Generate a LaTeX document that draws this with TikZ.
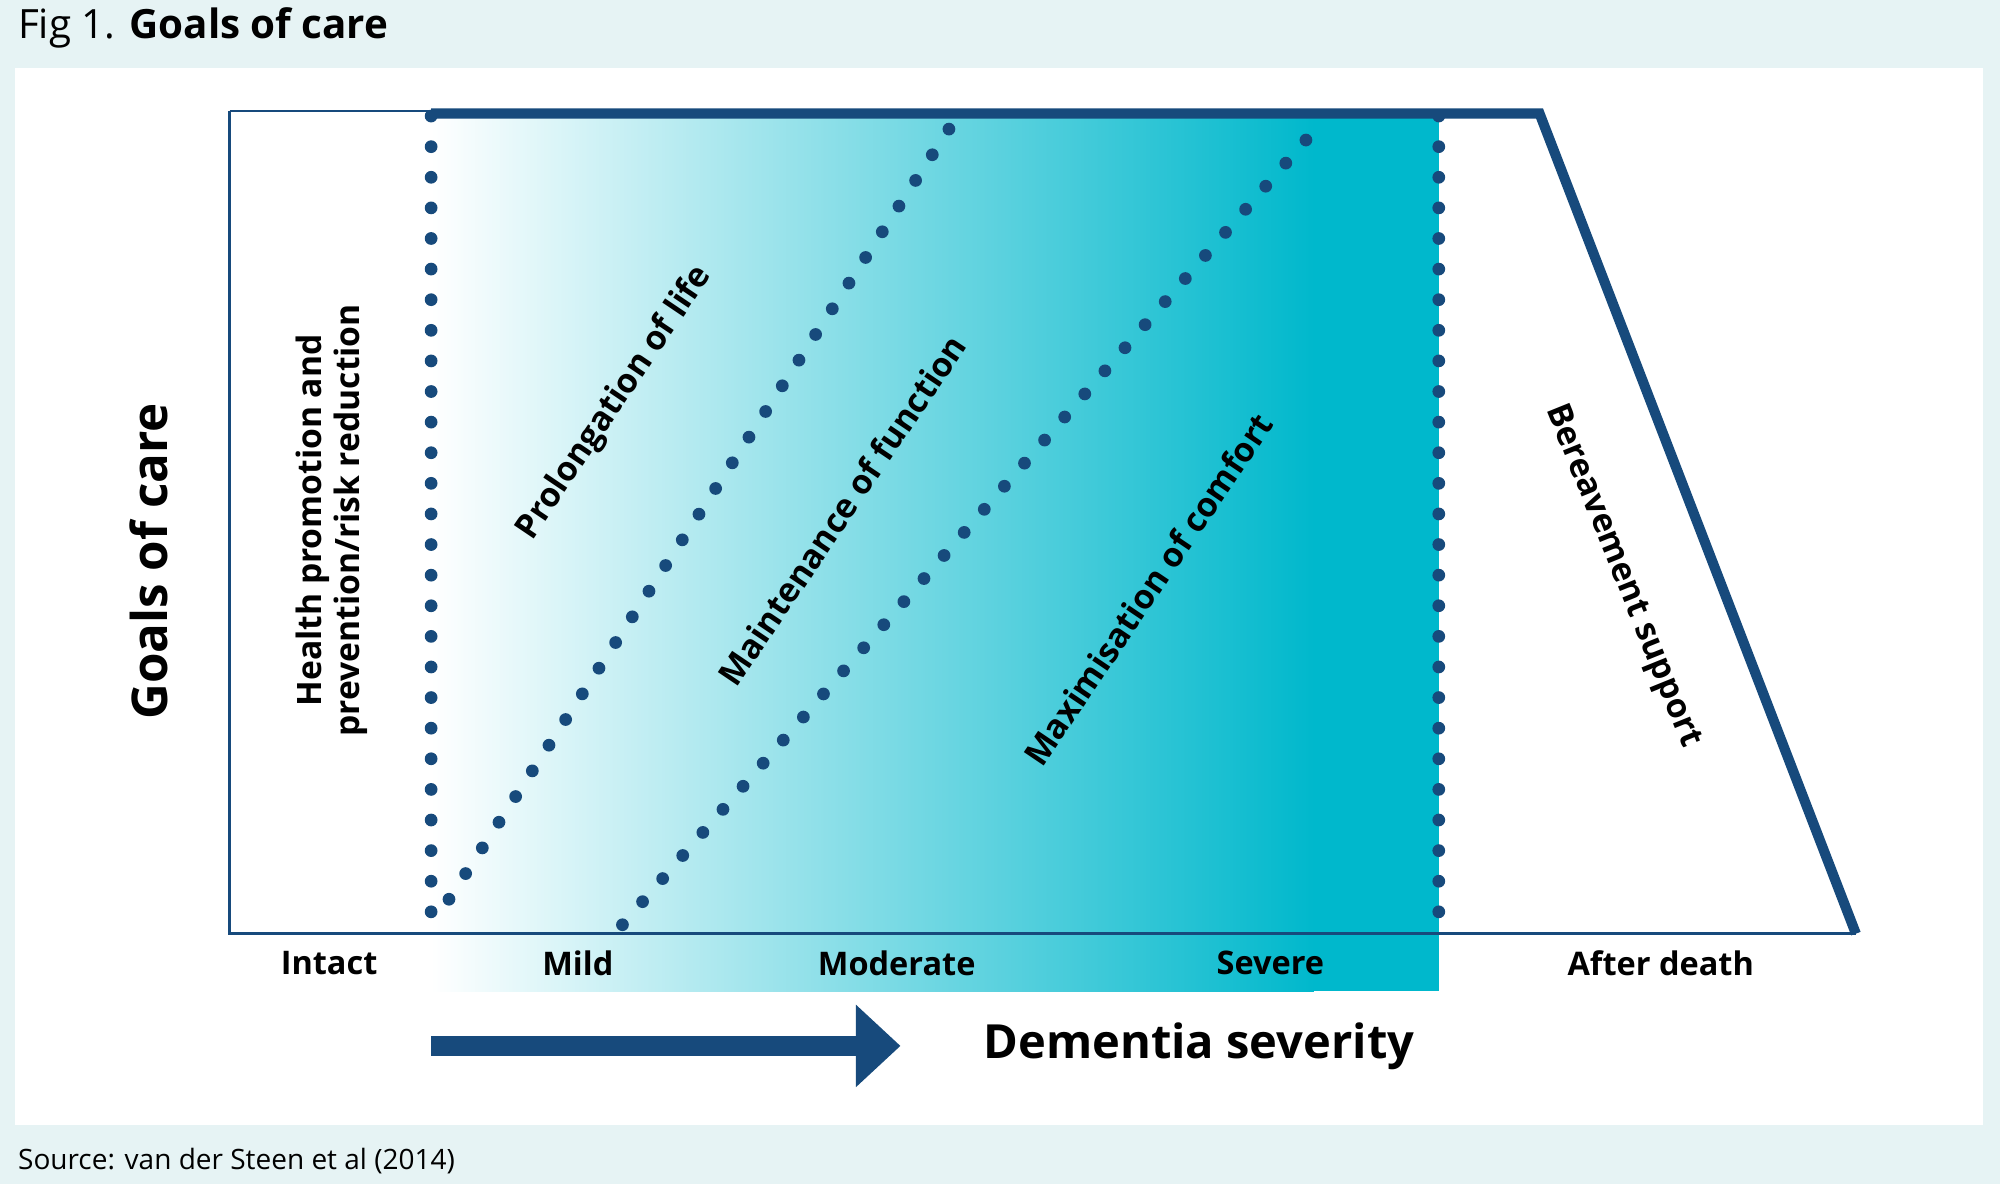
\documentclass[tikz,border=0pt]{standalone}
\usepackage{fontspec}
\setmainfont{Open Sans}
\usetikzlibrary{arrows.meta}
\definecolor{bgc}{HTML}{E6F3F4}
\definecolor{navy}{HTML}{174A7C}
\definecolor{cy}{HTML}{00B8CC}
\begin{document}
\begin{tikzpicture}[x=0.02cm,y=-0.02cm,
  dots/.style={navy,line width=0.2cm,line cap=round,dash pattern=on 0pt off 0.48cm},
  lab/.style={font=\fontsize{14.5}{16}\selectfont\bfseries},
  rot/.style={font=\fontsize{15}{17}\selectfont\bfseries,align=center}]
\fill[bgc] (0,0) rectangle (1568,928);
\useasboundingbox (0,0) rectangle (1568,928);
\fill[white] (12,53) rectangle (1555,882);
\node[anchor=west,font=\fontsize{18}{20}\selectfont] (title) at (8,22) {Fig 1. \textbf{Goals of care}};
\node[anchor=west,font=\fontsize{12.5}{15}\selectfont] (src) at (8,910) {Source: van der Steen et al (2014)};
% gradient
\shade[left color=white,right color=cy] (338,87) rectangle (1030,777);
\fill[cy] (1030,87) rectangle (1128,777);
% box
\draw[navy,line width=1.2pt] (180,87) -- (180,732) -- (1455,732);
\draw[navy,line width=1.2pt] (180,87) -- (338,87);
\draw[navy,line width=4.5pt,line join=miter] (338,89) -- (1207,89) -- (1455,732);
% dotted lines
\draw[dots] (338,91) -- (338,725);
\draw[dots] (1128,91) -- (1128,725);
\draw[dots] (352,705) -- (748,95);
\draw[dots] (488,725) -- (1035,97);
% texts
\node[rot,rotate=90] (hp) at (260,408) {Health promotion and\\prevention/risk reduction};
\node[rotate=90,font=\fontsize{22}{26}\selectfont\bfseries] (goc) at (117,440) {Goals of care};
\node[rot,rotate=56] (pl) at (482,316) {Prolongation of life};
\node[rot,rotate=56] (mf) at (660,400) {Maintenance of function};
\node[rot,rotate=56] (mc) at (900,462) {Maximisation of comfort};
\node[rot,rotate=-68] (bs) at (1272,452) {Bereavement support};
\node[lab] (l1) at (258,755) {Intact};
\node[lab] (l2) at (453,755) {Mild};
\node[lab] (l3) at (703,755) {Moderate};
\node[lab] (l4) at (996,755) {Severe};
\node[lab] (l5) at (1302,755) {After death};
\coordinate (a0) at (338,820);
\coordinate (a1) at (706,820);
\draw[navy,line width=0.32cm,-{Triangle[length=0.7cm,width=1.25cm]}] (a0) -- (a1);
\node[font=\fontsize{21}{24}\selectfont\bfseries] (ds) at (940,820) {Dementia severity};
\end{tikzpicture}
\end{document}
